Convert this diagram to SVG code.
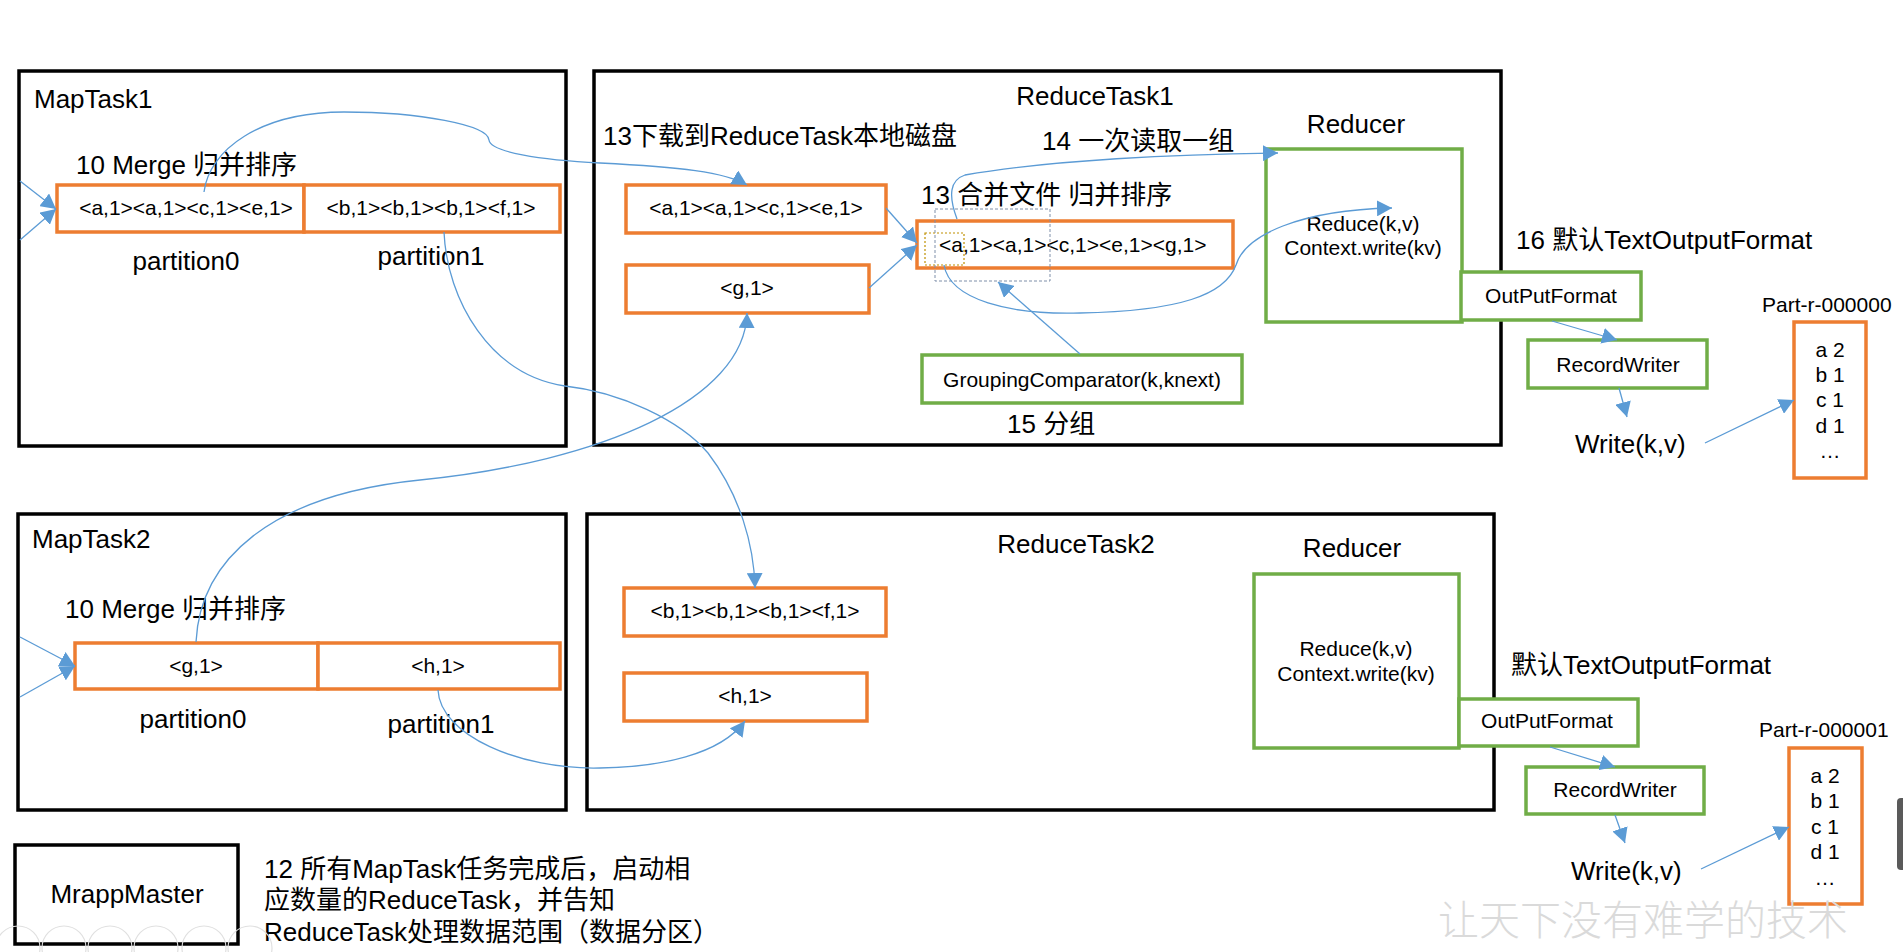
<svg xmlns="http://www.w3.org/2000/svg" width="1903" height="952" viewBox="0 0 1903 952">
<style>
.t{font-family:"Liberation Sans","Noto Sans CJK SC",sans-serif;fill:#000}
.big{font-size:26px}
.sm{font-size:21px}
.blk{fill:#fff;stroke:#000;stroke-width:3.5}
.org{fill:#fff;stroke:#ed7d31;stroke-width:3.5}
.grn{fill:#fff;stroke:#70ad47;stroke-width:3.5}
.c{fill:none;stroke:#5b9bd5;stroke-width:1.3}
.m{text-anchor:middle}
</style>
<defs>
<marker id="ah" markerUnits="userSpaceOnUse" markerWidth="16" markerHeight="16" refX="15" refY="8" orient="auto">
<path d="M0,0 L15,8 L0,16 z" fill="#5b9bd5"/>
</marker>
</defs>
<rect width="1903" height="952" fill="#fff"/>

<g id="maptask1">
<rect class="blk" x="19" y="71" width="547" height="375"/>
<text class="t big" x="34" y="108">MapTask1</text>
<text class="t big" x="76" y="174">10 Merge 归并排序</text>
<rect class="org" x="57" y="185" width="247" height="47"/>
<rect class="org" x="304" y="185" width="256" height="47"/>
<text class="t sm m" x="186" y="215">&lt;a,1&gt;&lt;a,1&gt;&lt;c,1&gt;&lt;e,1&gt;</text>
<text class="t sm m" x="431" y="215">&lt;b,1&gt;&lt;b,1&gt;&lt;b,1&gt;&lt;f,1&gt;</text>
<text class="t big m" x="186" y="270">partition0</text>
<text class="t big m" x="431" y="265">partition1</text>
</g>

<g id="maptask2">
<rect class="blk" x="18" y="514" width="548" height="296"/>
<text class="t big" x="32" y="548">MapTask2</text>
<text class="t big" x="65" y="618">10 Merge 归并排序</text>
<rect class="org" x="75" y="643" width="243" height="46"/>
<rect class="org" x="318" y="643" width="242" height="46"/>
<text class="t sm m" x="196" y="673">&lt;g,1&gt;</text>
<text class="t sm m" x="438" y="673">&lt;h,1&gt;</text>
<text class="t big m" x="193" y="728">partition0</text>
<text class="t big m" x="441" y="733">partition1</text>
</g>

<g id="reducetask1">
<rect class="blk" x="594" y="71" width="907" height="374"/>
<text class="t big m" x="1095" y="105">ReduceTask1</text>
<text class="t big" x="603" y="145">13下载到ReduceTask本地磁盘</text>
<text class="t big" x="1042" y="150">14 一次读取一组</text>
<text class="t big" x="921" y="204">13 合并文件 归并排序</text>
<rect class="org" x="626" y="185" width="260" height="48"/>
<text class="t sm m" x="756" y="215">&lt;a,1&gt;&lt;a,1&gt;&lt;c,1&gt;&lt;e,1&gt;</text>
<rect class="org" x="626" y="265" width="243" height="48"/>
<text class="t sm m" x="747" y="295">&lt;g,1&gt;</text>
<rect class="org" x="917" y="221" width="316" height="47"/>
<text class="t sm" x="939" y="252">&lt;a,1&gt;&lt;a,1&gt;&lt;c,1&gt;&lt;e,1&gt;&lt;g,1&gt;</text>
<rect x="925" y="233" width="39" height="32" fill="none" stroke="#bf9000" stroke-width="1.2" stroke-dasharray="2,2"/>
<rect x="935" y="209" width="115" height="72" fill="none" stroke="#7f8fa9" stroke-width="1" stroke-dasharray="3,2"/>
<rect class="grn" x="922" y="355" width="320" height="48"/>
<text class="t sm m" x="1082" y="387">GroupingComparator(k,knext)</text>
<text class="t big" x="1007" y="433">15 分组</text>
</g>

<g id="reducer1">
<text class="t big m" x="1356" y="133">Reducer</text>
<rect class="grn" x="1266" y="149" width="196" height="173"/>
<text class="t sm m" x="1363" y="231">Reduce(k,v)</text>
<text class="t sm m" x="1363" y="255">Context.write(kv)</text>
</g>

<g id="output1">
<text class="t big" x="1516" y="249">16 默认TextOutputFormat</text>
<rect class="grn" x="1461" y="272" width="180" height="48"/>
<text class="t sm m" x="1551" y="303">OutPutFormat</text>
<rect class="grn" x="1528" y="340" width="179" height="48"/>
<text class="t sm m" x="1618" y="372">RecordWriter</text>
<text class="t big" x="1575" y="453">Write(k,v)</text>
<text class="t sm" x="1762" y="312">Part-r-000000</text>
<rect class="org" x="1794" y="322" width="72" height="156"/>
<text class="t sm m" x="1830" y="357">a 2</text>
<text class="t sm m" x="1830" y="382">b 1</text>
<text class="t sm m" x="1830" y="407">c 1</text>
<text class="t sm m" x="1830" y="433">d 1</text>
<text class="t sm m" x="1830" y="458">…</text>
</g>

<g id="reducetask2">
<rect class="blk" x="587" y="514" width="907" height="296"/>
<text class="t big m" x="1076" y="553">ReduceTask2</text>
<rect class="org" x="624" y="588" width="262" height="48"/>
<text class="t sm m" x="755" y="618">&lt;b,1&gt;&lt;b,1&gt;&lt;b,1&gt;&lt;f,1&gt;</text>
<rect class="org" x="624" y="673" width="243" height="48"/>
<text class="t sm m" x="745" y="703">&lt;h,1&gt;</text>
</g>

<g id="reducer2">
<text class="t big m" x="1352" y="557">Reducer</text>
<rect class="grn" x="1254" y="574" width="205" height="174"/>
<text class="t sm m" x="1356" y="656">Reduce(k,v)</text>
<text class="t sm m" x="1356" y="681">Context.write(kv)</text>
</g>

<g id="output2">
<text class="t big" x="1511" y="674">默认TextOutputFormat</text>
<rect class="grn" x="1459" y="699" width="179" height="47"/>
<text class="t sm m" x="1547" y="728">OutPutFormat</text>
<rect class="grn" x="1526" y="767" width="178" height="47"/>
<text class="t sm m" x="1615" y="797">RecordWriter</text>
<text class="t big" x="1571" y="880">Write(k,v)</text>
<text class="t sm" x="1759" y="737">Part-r-000001</text>
<rect class="org" x="1789" y="748" width="73" height="156"/>
<text class="t sm m" x="1825" y="783">a 2</text>
<text class="t sm m" x="1825" y="808">b 1</text>
<text class="t sm m" x="1825" y="834">c 1</text>
<text class="t sm m" x="1825" y="859">d 1</text>
<text class="t sm m" x="1825" y="885">…</text>
</g>

<g id="mrappmaster">
<rect class="blk" x="15" y="845" width="223" height="99"/>
<text class="t big m" x="127" y="903">MrappMaster</text>
<text class="t big" x="264" y="878">12 所有MapTask任务完成后，启动相</text>
<text class="t big" x="264" y="909">应数量的ReduceTask，并告知</text>
<text class="t big" x="264" y="941">ReduceTask处理数据范围（数据分区）</text>
</g>

<g id="connectors">
<path class="c" marker-end="url(#ah)" d="M20,181 L56,209"/>
<path class="c" marker-end="url(#ah)" d="M20,240 L56,209"/>
<path class="c" marker-end="url(#ah)" d="M20,637 L75,666"/>
<path class="c" marker-end="url(#ah)" d="M20,697 L75,666"/>
<path class="c" marker-end="url(#ah)" d="M204,192 C209,150 260,112 344,112 C420,112 488,125 489,140 C490,152 540,160 600,163 C680,167 725,172 747,185"/>
<path class="c" marker-end="url(#ah)" d="M444,232 C447,300 490,375 565,386 C620,392 680,420 708,453 C740,495 754,545 755,588"/>
<path class="c" marker-end="url(#ah)" d="M196,642 C200,560 270,495 420,480 C600,462 745,400 747,313"/>
<path class="c" marker-end="url(#ah)" d="M438,690 C440,735 520,770 600,768 C660,767 720,755 745,721"/>
<path class="c" marker-end="url(#ah)" d="M886,208 L917,243"/>
<path class="c" marker-end="url(#ah)" d="M869,288 L917,245"/>
<path class="c" marker-end="url(#ah)" d="M957,219 C948,195 950,180 965,175 C1050,160 1180,154 1278,153"/>
<path class="c" marker-end="url(#ah)" d="M944,265 C950,300 1010,315 1080,313 C1180,311 1225,295 1236,265 C1245,235 1300,210 1392,208"/>
<path class="c" marker-end="url(#ah)" d="M1080,354 L998,282"/>
<path class="c" marker-end="url(#ah)" d="M1552,321 L1617,340"/>
<path class="c" marker-end="url(#ah)" d="M1619,388 L1627,417"/>
<path class="c" marker-end="url(#ah)" d="M1705,443 L1794,400"/>
<path class="c" marker-end="url(#ah)" d="M1550,747 L1615,767"/>
<path class="c" marker-end="url(#ah)" d="M1615,815 L1625,843"/>
<path class="c" marker-end="url(#ah)" d="M1701,869 L1789,827"/>
</g>

<g id="overlay">
<text x="1438" y="935" style="font-family:'Noto Sans CJK SC',sans-serif;font-size:41px;fill:#dadada;font-weight:300">让天下没有难学的技术</text>
<rect x="1897" y="798" width="12" height="72" rx="4" fill="#5a5a5a"/>
<g fill="none" stroke="#e0e0e0" stroke-width="1.2">
<circle cx="18" cy="948" r="22"/>
<circle cx="64" cy="948" r="22"/>
<circle cx="110" cy="948" r="22"/>
<circle cx="156" cy="948" r="22"/>
<circle cx="204" cy="948" r="22"/>
<circle cx="250" cy="948" r="22"/>
</g>
</g>
</svg>
